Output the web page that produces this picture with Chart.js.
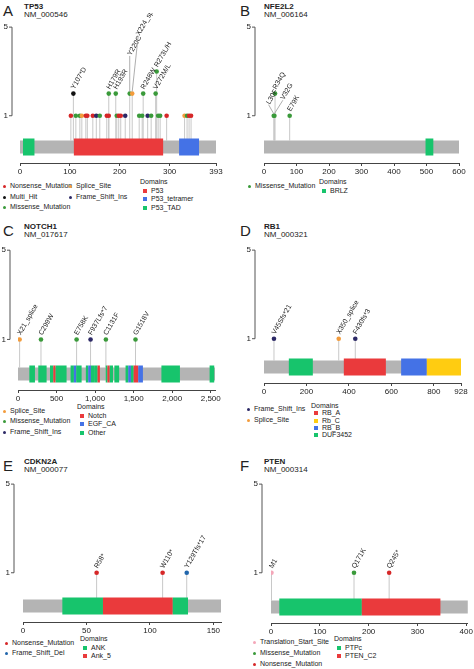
<!DOCTYPE html>
<html><head><meta charset="utf-8">
<script src="https://cdn.jsdelivr.net/npm/chart.js@4"></script>
<style>
body{margin:0;width:474px;height:669px;background:#fff;position:relative;overflow:hidden;font-family:"Liberation Sans",Arial,sans-serif;color:#222}
canvas{position:absolute}
.t{position:absolute;white-space:nowrap;font-size:7px;line-height:8px}
.let{position:absolute;font-size:15px;line-height:15px}
.g{position:absolute;font-size:8px;font-weight:bold;line-height:9px}
.nm{position:absolute;font-size:8px;line-height:9px}
.dot{display:inline-block;width:3px;height:3px;border-radius:50%;margin-right:4px;vertical-align:middle}
.sq{display:inline-block;width:4px;height:4px;margin-right:4px;vertical-align:middle}
</style></head><body>
<script>
// ---- DATA ----
const tp53Pos   = [102,112,120,124,132,135,146,153,160,174,178,194,198,202,211,239,245,256,263,277,281,294,330,335,339,343, 107,178,192,220,225,247,272,274];
const tp53Count = [1,1,1,1,1,1,1,1,1,1,1,1,1,1,1,1,1,1,1,1,1,1,1,1,1,1, 2,2,2,2,2,2,2,3];
const tp53Type  = ['N','M','M','S','N','N','N','I','M','N','N','M','N','N','I','M','M','I','M','M','M','N','S','M','N','N', 'H','M','M','M','S','M','M','M'];
const tp53Label = ['','','','','','','','','','','','','','','','','','','','','','','','','','', 'Y107*D','H179R','H193R','Y220C','X224_splice','R248W','V272M/L','R273L/H'];
const tp53DomStart = [6,108,319];
const tp53DomEnd   = [29,287,359];
const tp53DomName  = ['P53_TAD','P53','P53_tetramer'];

const nfePos   = [30,32,34,79];
const nfeCount = [1,1,2,1];
const nfeType  = ['M','M','M','M'];
const nfeLabel = ['L30F','V32G','R34Q','E79K'];
const nfeDomStart = [497];
const nfeDomEnd   = [521];
const nfeDomName  = ['BRLZ'];

const notchPos   = [21,298,760,941,1140,1524];
const notchCount = [1,1,1,1,1,1];
const notchType  = ['S','M','M','I','M','M'];
const notchLabel = ['X21_splice','C299W','E758K','F937Lfs*7','C1131F','G1518V'];
const notchDomStart = [147,263,415,458,488,682,725,755,880,911,946,997,1032,1138,1160,1190,1250,1395,1430,1465,1500,1560,1860,2485];
const notchDomEnd   = [220,371,458,488,630,725,755,825,911,946,997,1032,1062,1160,1190,1232,1312,1430,1465,1500,1560,1620,2100,2545];
const notchDomName  = ['Other','Other','Other','Notch','Other','Other','EGF_CA','Other','Other','EGF_CA','Other','Other','Notch','Other','Notch','Other','Other','Other','EGF_CA','Other','Notch','EGF_CA','Other','Other'];

const rbPos   = [47,352,430];
const rbCount = [1,1,1];
const rbType  = ['I','S','I'];
const rbLabel = ['V45Sfs*21','X350_splice','F430fs*3'];
const rbDomStart = [117,376,646,767];
const rbDomEnd   = [230,574,767,928];
const rbDomName  = ['DUF3452','RB_A','RB_B','Rb_C'];

const cdkPos   = [58,110,129];
const cdkCount = [1,1,1];
const cdkType  = ['N','N','D'];
const cdkLabel = ['R58*','W110*','Y129Tfs*17'];
const cdkDomStart = [31,63,118];
const cdkDomEnd   = [63,118,130];
const cdkDomName  = ['ANK','Ank_5','ANK'];

const ptenPos   = [1,170,242];
const ptenCount = [1,1,1];
const ptenType  = ['T','M','N'];
const ptenLabel = ['M1','Q171K','Q245*'];
const ptenDomStart = [17,186];
const ptenDomEnd   = [186,347];
const ptenDomName  = ['PTPc','PTEN_C2'];

const tp53Ticks=[0,100,200,300,393], nfeTicks=[0,100,200,300,400,500,600], notchTicks=[0,500,1000,1500,2000,2500],
      rbTicks=[0,200,400,600,800,928], cdkTicks=[0,50,100,150], ptenTicks=[0,100,200,300,400];

// ---- STYLE ----
const mutColor={N:'#d62728',M:'#3a9a3a',S:'#f39c3c',I:'#2c2966',H:'#111111',D:'#2166ac',T:'#f4a7b9'};
const mutName={N:'Nonsense_Mutation',M:'Missense_Mutation',S:'Splice_Site',I:'Frame_Shift_Ins',H:'Multi_Hit',D:'Frame_Shift_Del',T:'Translation_Start_Site'};
const domColor={P53:'#ea3a3c',P53_tetramer:'#4472e6',P53_TAD:'#17c46c',BRLZ:'#17c46c',Notch:'#ea3a3c',EGF_CA:'#4472e6',Other:'#17c46c',
  RB_A:'#ea3a3c',Rb_C:'#ffcc11',RB_B:'#4472e6',DUF3452:'#17c46c',ANK:'#17c46c',Ank_5:'#ea3a3c',PTPc:'#17c46c',PTEN_C2:'#ea3a3c'};

const panels=[
 {L:'A',gene:'TP53',nm:'NM_000546',px:0,py:0,x0:20,x1:216,y5:25,y1:115,ax:163,len:393,ticks:tp53Ticks,
  pos:tp53Pos,cnt:tp53Count,typ:tp53Type,lab:tp53Label,ds:tp53DomStart,de:tp53DomEnd,dn:tp53DomName,
  lo:{29:{lx:220,ly:3.7},30:{lx:237,ly:4.6}},
  leg:[['N',3,186],['H',3,197],['M',3,207],['S',69,186],['I',69,197]],dh:[140,182],dl:['P53','P53_tetramer','P53_TAD'],dy:8.5},
 {L:'B',gene:'NFE2L2',nm:'NM_006164',px:237,py:0,x0:264,x1:459,y5:25,y1:115,ax:163,len:600,ticks:nfeTicks,
  pos:nfePos,cnt:nfeCount,typ:nfeType,lab:nfeLabel,ds:nfeDomStart,de:nfeDomEnd,dn:nfeDomName,
  lo:{0:{lx:14,ly:1.5},1:{lx:58,ly:1.7}},
  leg:[['M',248,186]],dh:[319,182],dl:['BRLZ'],dy:8.5},
 {L:'C',gene:'NOTCH1',nm:'NM_017617',px:0,py:220,x0:18,x1:215,y5:248,y1:339,ax:390,len:2555,ticks:notchTicks,
  pos:notchPos,cnt:notchCount,typ:notchType,lab:notchLabel,ds:notchDomStart,de:notchDomEnd,dn:notchDomName,lo:{},
  leg:[['S',3,411],['M',3,421],['I',3,432]],dh:[77,407],dl:['Notch','EGF_CA','Other'],dy:8.5},
 {L:'D',gene:'RB1',nm:'NM_000321',px:237,py:220,x0:264,x1:461,y5:248,y1:338,ax:383,len:928,ticks:rbTicks,
  pos:rbPos,cnt:rbCount,typ:rbType,lab:rbLabel,ds:rbDomStart,de:rbDomEnd,dn:rbDomName,lo:{},
  leg:[['I',247,409],['S',247,420]],dh:[311,406],dl:['RB_A','Rb_C','RB_B','DUF3452'],dy:7.3},
 {L:'E',gene:'CDKN2A',nm:'NM_000077',px:0,py:445,x0:23,x1:221,y5:482,y1:572,ax:622,len:156,ticks:cdkTicks,
  pos:cdkPos,cnt:cdkCount,typ:cdkType,lab:cdkLabel,ds:cdkDomStart,de:cdkDomEnd,dn:cdkDomName,lo:{},
  leg:[['N',5,643],['D',5,653]],dh:[80,639],dl:['ANK','Ank_5'],dy:8.5},
 {L:'F',gene:'PTEN',nm:'NM_000314',px:237,py:445,x0:271,x1:470,y5:482,y1:572,ax:623,len:403,ticks:ptenTicks,
  pos:ptenPos,cnt:ptenCount,typ:ptenType,lab:ptenLabel,ds:ptenDomStart,de:ptenDomEnd,dn:ptenDomName,lo:{},
  leg:[['T',253,642],['M',253,653],['N',253,664]],dh:[334,639],dl:['PTPc','PTEN_C2'],dy:8.5}
];

function el(cls,x,y,html){const d=document.createElement('div');d.className=cls;d.style.left=x+'px';d.style.top=y+'px';d.innerHTML=html;document.body.appendChild(d);return d;}

const PPU=22.5;
panels.forEach(p=>{
  const gx=p.px+(p.L==='B'||p.L==='D'||p.L==='F'?27:24);
  const ty=p.py+(p.L==='E'||p.L==='F'?12:2);
  el('let',p.px+3,ty+1,p.L);
  el('g',gx,ty,p.gene);
  el('nm',gx,ty+8,p.nm);
  p.leg.forEach(([k,x,y])=>el('t',x,y-4,`<span class="dot" style="background:${mutColor[k]}"></span>${mutName[k]}`));
  el('t',p.dh[0],p.dh[1]-4,'Domains');
  p.dl.forEach((n,i)=>el('t',p.dh[0]+3,p.dh[1]+p.dy*(i+1)-4,`<span class="sq" style="background:${domColor[n]}"></span>${n}`));

  const top=p.y5-12, H=p.ax-top+22, W=237;
  const cv=document.createElement('canvas');cv.style.left=p.px+'px';cv.style.top=top+'px';
  cv.width=W;cv.height=H;cv.style.width=W+'px';cv.style.height=H+'px';document.body.appendChild(cv);
  const ymin=1-(p.ax-p.y1)/PPU, ymax=5+12/PPU;
  const plug={id:'lolli',
    beforeDatasetsDraw(c){
      const ctx=c.ctx,xs=c.scales.x,ys=c.scales.y,ca=c.chartArea;
      const ax=ca.left-(p.x0-p.px<22?8:9);
      ctx.save();
      ctx.strokeStyle='#555';ctx.lineWidth=1;
      ctx.beginPath();ctx.moveTo(ax,ys.getPixelForValue(5));ctx.lineTo(ax,ys.getPixelForValue(1));ctx.stroke();
      ctx.fillStyle='#222';ctx.font='8px "Liberation Sans",Arial';ctx.textAlign='right';ctx.textBaseline='middle';
      [1,5].forEach(v=>{const y=ys.getPixelForValue(v);ctx.beginPath();ctx.moveTo(ax-3,y);ctx.lineTo(ax,y);ctx.stroke();ctx.fillText(String(v),ax-4,y);});
      const cy=ca.bottom-16, bh=13, dh=17;
      ctx.strokeStyle='#c8c8c8';
      p.pos.forEach((v,i)=>{const x=xs.getPixelForValue(v);ctx.beginPath();ctx.moveTo(x,ys.getPixelForValue(p.cnt[i]));ctx.lineTo(x,cy-bh/2);ctx.stroke();});
      ctx.fillStyle='#b4b4b4';
      const bx0=xs.getPixelForValue(0),bx1=xs.getPixelForValue(p.len);
      ctx.fillRect(bx0,cy-bh/2,bx1-bx0,bh);
      p.ds.forEach((s,i)=>{const a=xs.getPixelForValue(s),b=xs.getPixelForValue(p.de[i]);ctx.fillStyle=domColor[p.dn[i]];ctx.fillRect(a,cy-dh/2,b-a,dh);});
      ctx.restore();
    },
    afterDatasetsDraw(c){
      const ctx=c.ctx,xs=c.scales.x,ys=c.scales.y;
      ctx.save();ctx.font='7px "Liberation Sans",Arial';ctx.fillStyle='#222';ctx.strokeStyle='#999';ctx.lineWidth=0.8;
      p.lab.forEach((t,i)=>{ if(!t) return;
        const px=xs.getPixelForValue(p.pos[i]),py=ys.getPixelForValue(p.cnt[i]);
        let bx=px,by=py-4;
        const o=p.lo[i];
        if(o){bx=xs.getPixelForValue(o.lx);by=ys.getPixelForValue(o.ly);ctx.beginPath();ctx.moveTo(px,py-2);ctx.lineTo(bx,by);ctx.stroke();}
        ctx.save();ctx.translate(bx-1,by);ctx.rotate(-Math.PI/3);ctx.textBaseline='middle';ctx.fillText(t,1,0);ctx.restore();
      });
      ctx.restore();
    }};
  new Chart(cv,{type:'scatter',
    data:{datasets:[{data:p.pos.map((v,i)=>({x:v,y:p.cnt[i]})),pointRadius:2.3,pointBorderWidth:0,
      pointBackgroundColor:p.typ.map(k=>mutColor[k]),pointHoverRadius:2.3}]},
    options:{responsive:false,animation:false,events:[],
      layout:{padding:{left:p.x0-p.px,right:W-(p.x1-p.px),top:0,bottom:0}},
      plugins:{legend:{display:false},tooltip:{enabled:false}},
      scales:{
        y:{display:false,min:ymin,max:ymax},
        x:{min:0,max:p.len,afterBuildTicks:s=>{s.ticks=p.ticks.map(v=>({value:v}));},afterFit:s=>{s.height=22;},
           grid:{drawOnChartArea:false,drawTicks:true,tickLength:3,color:'#444'},border:{display:true,color:'#444'},
           ticks:{autoSkip:false,maxRotation:0,padding:1,color:'#222',font:{size:8,family:'"Liberation Sans",Arial'}}}
      }},plugins:[plug]});
});
</script>
</body></html>
